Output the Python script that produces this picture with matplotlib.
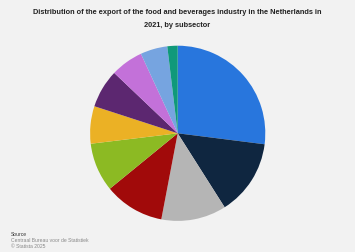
import matplotlib.pyplot as plt

# Share of export by subsector (%), read clockwise from 12 o'clock
shares = [27.0, 14.0, 12.0, 11.1, 9.0, 6.9, 7.1, 6.0, 5.0, 1.9]
colors = ['#2876dd', '#0f2640', '#b5b5b5', '#a10a0a', '#8cba23',
          '#ebb125', '#5c2770', '#c371d9', '#76a4e0', '#10997a']

title = ("Distribution of the export of the food and beverages industry in the Netherlands in\n"
         "2021, by subsector")

plt.rcParams['font.family'] = ['Liberation Sans', 'DejaVu Sans']

fig = plt.figure(figsize=(3.55, 2.53), dpi=100)
fig.patch.set_facecolor('#f2f2f2')

# Pie
cx, cy, r = 177.7, 134.3, 87.6
W, H = 355, 253
ax = fig.add_axes([(cx - r) / W, (H - cy - r) / H, 2 * r / W, 2 * r / H])
ax.pie(shares, colors=colors, startangle=90, counterclock=False,
       wedgeprops=dict(linewidth=0))
ax.set_aspect('equal')
ax.set_xlim(-1, 1)
ax.set_ylim(-1, 1)
ax.axis('off')

# Title
fig.text(0.5, 1 - 8.5 / H, title, ha='center', va='top', fontsize=5.3,
         fontweight='bold', color='#222222', linespacing=2.3)

# Source note
fig.text(11 / W, 1 - 232.5 / H, "Source", fontsize=3.6, color='#333333', va='top')
fig.text(11 / W, 1 - 238.5 / H, "Centraal Bureau voor de Statistiek", fontsize=3.6,
         color='#888888', va='top')
fig.text(11 / W, 1 - 244 / H, "\u00a9 Statista 2025", fontsize=3.6,
         color='#888888', va='top')

plt.savefig('out.png', dpi=100, facecolor=fig.get_facecolor())
